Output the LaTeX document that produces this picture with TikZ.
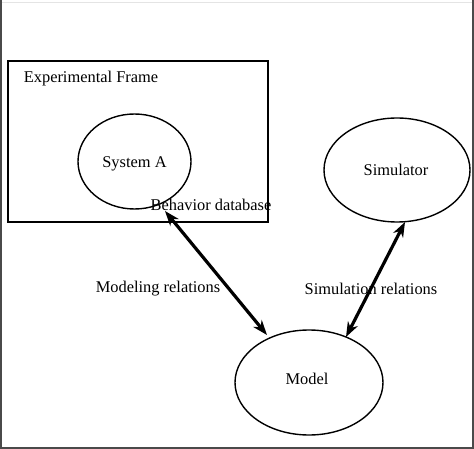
\documentclass[tikz,border=0pt]{standalone}
\usepackage{fontspec}
\setmainfont{Liberation Serif}
\usetikzlibrary{shapes.geometric,arrows.meta}
\definecolor{framegray}{HTML}{4A4A4A}
\definecolor{faintgray}{HTML}{E4E4E4}
\begin{document}
\begin{tikzpicture}[x=1pt,y=-1pt,
  lbl/.style={font=\fontsize{16.4}{19}\selectfont, inner sep=0pt},
  oval/.style={draw, ellipse, line width=1.4pt, inner sep=0pt},
  rel/.style={line width=3.2pt, {Stealth[length=15pt,width=11pt]}-{Stealth[length=15pt,width=11pt]}}
]
\useasboundingbox (0,0) rectangle (474,449);
\fill[white] (0,0) rectangle (474,449);
% outer frame
\draw[faintgray, line width=1pt] (1,2.5) -- (472.5,2.5);
\draw[framegray, line width=2.2pt] (1.1,0) -- (1.1,447.6) -- (472.6,447.6) -- (472.6,0);
% experimental frame
\node[draw, line width=1.6pt, minimum width=260pt, minimum height=161pt, inner sep=0pt] (ef) at (138,141.5) {};
\node[lbl] (eft) at (91,79) {Experimental Frame};
% ellipses
\node[oval, minimum width=113pt, minimum height=95pt] (sysA) at (134.5,161.5) {};
\node[oval, minimum width=146pt, minimum height=104pt] (sim) at (397,170) {};
\node[oval, minimum width=148pt, minimum height=105pt] (model) at (309,382.5) {};
\node[lbl] (sysAt) at (134.5,164) {System A};
\node[lbl] (simt) at (396,170) {Simulator};
\node[lbl] (modelt) at (307,379) {Model};
% labels
\node[lbl] (bdb) at (211,205) {Behavior database};
\node[lbl] (mrel) at (158,289) {Modeling relations};
\node[lbl] (srel) at (371,289) {Simulation relations};
% arrow ends
\coordinate (a1s) at (165,211);
\coordinate (a1e) at (267,335);
\coordinate (a2s) at (405,222);
\coordinate (a2e) at (346,337);
\draw[rel] (a1s) -- (a1e);
\draw[rel] (a2s) -- (a2e);
\end{tikzpicture}
\end{document}
